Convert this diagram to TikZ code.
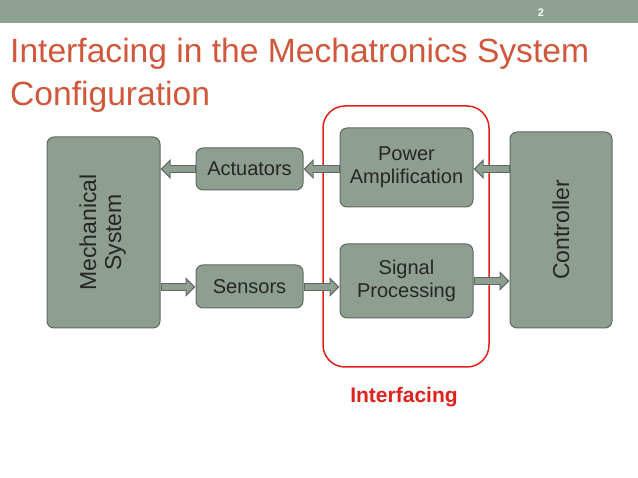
\documentclass[tikz,border=0pt]{standalone}
\usepackage{fontspec}
\setmainfont{Liberation Sans}
\usetikzlibrary{positioning,arrows.meta}
\definecolor{boxfill}{HTML}{8E9E91}
\definecolor{boxline}{HTML}{5E6A60}
\definecolor{barfill}{HTML}{8FA192}
\definecolor{titlered}{HTML}{D0573B}
\definecolor{ifred}{HTML}{E0201B}
\begin{document}
\begin{tikzpicture}[x=1pt,y=-1pt,
    block/.style={draw=boxline,fill=boxfill,rounded corners=7pt,line width=1pt,
      font=\fontsize{20}{23}\selectfont,text=black!85,align=center,inner sep=0pt},
    flow/.style={draw=boxline,line width=8pt,
      -{Triangle[length=10pt,width=19pt]}},
    flowin/.style={draw=boxfill,line width=6pt,shorten >=2pt,shorten <=1pt,
      -{Triangle[length=7pt,width=14pt]}}]
  \useasboundingbox (0,0) rectangle (638,478);
  \fill[barfill] (0,0) rectangle (638,23);
  \node[text=white,font=\fontsize{11}{13}\selectfont\bfseries] (page) at (541,13) {2};
  \node[anchor=north west,align=left,text=titlered,inner sep=0pt,
    font=\fontsize{33.6}{43}\selectfont] (title) at (10,38)
    {Interfacing in the Mechatronics System\\Configuration};
  % boxes
  \node[block,minimum width=113pt,minimum height=191pt] (mech) at (103.5,232.5)
    {\rotatebox{90}{\fontsize{23}{25}\selectfont\begin{tabular}{c}Mechanical\\System\end{tabular}}};
  \node[block,minimum width=107pt,minimum height=42pt] (act) at (249.5,169) {Actuators};
  \node[block,minimum width=107pt,minimum height=43pt] (sens) at (249.5,286.5) {Sensors};
  \node[block,minimum width=133pt,minimum height=79pt] (power) at (406.5,167.5)
    {Power\\Amplification};
  \node[block,minimum width=133pt,minimum height=74pt] (signal) at (406.5,281)
    {Signal\\Processing};
  \node[block,minimum width=102pt,minimum height=196pt] (ctrl) at (561,230)
    {\rotatebox{90}{\fontsize{23}{25}\selectfont Controller}};
  % interfacing frame
  \draw[ifred,line width=1.5pt,rounded corners=22pt] (323,106) rectangle (489,367);
  \node[text=ifred,font=\fontsize{21}{24}\selectfont\bfseries] (iflabel) at (404,397) {Interfacing};
  % connectors, right to left
  \foreach \s/\t/\y in {power/act/169,act/mech/169,ctrl/power/169}{
    \draw[flow] (\s.west |- 0,\y) -- (\t.east |- 0,\y);
    \draw[flowin] (\s.west |- 0,\y) -- (\t.east |- 0,\y);
  }
  % connectors, left to right
  \foreach \s/\t/\y in {mech/sens/287,sens/signal/287,signal/ctrl/281}{
    \draw[flow] (\s.east |- 0,\y) -- (\t.west |- 0,\y);
    \draw[flowin] (\s.east |- 0,\y) -- (\t.west |- 0,\y);
  }
\end{tikzpicture}
\end{document}
